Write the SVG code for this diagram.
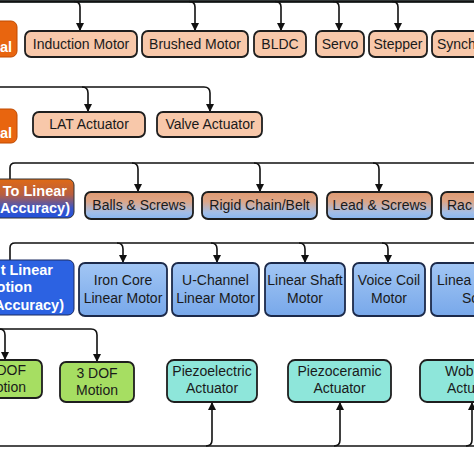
<svg xmlns="http://www.w3.org/2000/svg" width="474" height="474" viewBox="0 0 474 474">
<style>
text{font-family:"Liberation Sans",Arial,sans-serif;font-size:14px;fill:#1a1a1a;text-anchor:middle}
.hd{font-weight:bold;fill:#fff;text-anchor:end;font-size:14.5px}
.n{stroke:#1e1e1e;stroke-width:1.8}
.o{fill:#F8C8AA}
.g3{fill:url(#gMix)}
.b{fill:url(#gBlue);stroke:#1c2a4a}
.gr{fill:#A6DE62}
.c{fill:#8EE6DA}
.w{stroke:#111;stroke-width:1.6;fill:none}
</style>
<defs>
<linearGradient id="gMix" x1="0" y1="0" x2="0" y2="1">
<stop offset="0" stop-color="#E09A72"/><stop offset="0.35" stop-color="#DDA688"/><stop offset="0.75" stop-color="#A4BEE6"/><stop offset="1" stop-color="#88B6F0"/>
</linearGradient>
<linearGradient id="gHead" x1="0" y1="0" x2="0" y2="1">
<stop offset="0" stop-color="#E06A14"/><stop offset="0.4" stop-color="#B85E40"/><stop offset="0.75" stop-color="#3A56C8"/><stop offset="1" stop-color="#2050DC"/>
</linearGradient>
<linearGradient id="gBlue" x1="0" y1="0" x2="0" y2="1">
<stop offset="0" stop-color="#A2C6F4"/><stop offset="1" stop-color="#78A8EA"/>
</linearGradient>
<marker id="ar" viewBox="0 0 10 10" refX="10" refY="5" markerWidth="8" markerHeight="8" markerUnits="userSpaceOnUse" orient="auto">
<path d="M0,0 L10,5 L0,10 Z" fill="#111"/>
</marker>
</defs>
<rect width="474" height="474" fill="#fff"/>
<rect x="0" y="0" width="474" height="3" fill="#3c4444"/>

<g id="connectors">
<path class="w" d="M0,1.5 H474"/>
<path class="w" d="M74,1.5 Q80,1.5 80,7 V31" marker-end="url(#ar)"/>
<path class="w" d="M189,1.5 Q195,1.5 195,7 V31" marker-end="url(#ar)"/>
<path class="w" d="M275,1.5 Q281,1.5 281,7 V31" marker-end="url(#ar)"/>
<path class="w" d="M333,1.5 Q339,1.5 339,7 V31" marker-end="url(#ar)"/>
<path class="w" d="M392,1.5 Q398,1.5 398,7 V31" marker-end="url(#ar)"/>

<path class="w" d="M0,87 H204 Q210,87 210,93 V112" marker-end="url(#ar)"/>
<path class="w" d="M82,87 Q88,87 88,93 V112" marker-end="url(#ar)"/>

<path class="w" d="M10,179 V168 Q10,163 15,163 H474"/>
<path class="w" d="M132,163 Q138,163 138,169 V192" marker-end="url(#ar)"/>
<path class="w" d="M254,163 Q260,163 260,169 V192" marker-end="url(#ar)"/>
<path class="w" d="M373,163 Q379,163 379,169 V192" marker-end="url(#ar)"/>

<path class="w" d="M10,260 V248 Q10,243 15,243 H474"/>
<path class="w" d="M117,243 Q123,243 123,249 V263" marker-end="url(#ar)"/>
<path class="w" d="M211,243 Q217,243 217,249 V263" marker-end="url(#ar)"/>
<path class="w" d="M299,243 Q305,243 305,249 V263" marker-end="url(#ar)"/>
<path class="w" d="M382,243 Q388,243 388,249 V263" marker-end="url(#ar)"/>

<path class="w" d="M0,329 H91 Q97,329 97,335 V362" marker-end="url(#ar)"/>
<path class="w" d="M-1,329 Q5,329 5,335 V360" marker-end="url(#ar)"/>

<path class="w" d="M0,446 H474"/>
<path class="w" d="M206,446 Q212,446 212,440 V402" marker-end="url(#ar)"/>
<path class="w" d="M334,446 Q340,446 340,440 V402" marker-end="url(#ar)"/>
<path class="w" d="M466,446 Q472,446 472,440 V402" marker-end="url(#ar)"/>
</g>

<g id="head1"><rect x="-20" y="21" width="37" height="36" rx="6" fill="#E8650F" stroke="#c04a00" stroke-width="1"/><text class="hd" x="12" y="52">al</text></g>
<g id="n-induction"><rect class="n o" x="25" y="31" width="112" height="26" rx="6"/><text x="81" y="49">Induction Motor</text></g>
<g id="n-brushed"><rect class="n o" x="142" y="31" width="106" height="26" rx="6"/><text x="195" y="49">Brushed Motor</text></g>
<g id="n-bldc"><rect class="n o" x="254" y="31" width="52" height="26" rx="6"/><text x="280" y="49">BLDC</text></g>
<g id="n-servo"><rect class="n o" x="316" y="31" width="48" height="26" rx="6"/><text x="340" y="49">Servo</text></g>
<g id="n-stepper"><rect class="n o" x="369" y="31" width="58" height="26" rx="6"/><text x="398" y="49">Stepper</text></g>
<g id="n-synch"><rect class="n o" x="432" y="31" width="70" height="26" rx="6"/><text x="437" y="49" style="text-anchor:start">Synch</text></g>

<g id="head2"><rect x="-20" y="109" width="37" height="34" rx="6" fill="#E8650F" stroke="#c04a00" stroke-width="1"/><text class="hd" x="12" y="138">al</text></g>
<g id="n-lat"><rect class="n o" x="33" y="112" width="112" height="25" rx="6"/><text x="89" y="129">LAT Actuator</text></g>
<g id="n-valve"><rect class="n o" x="157" y="112" width="105" height="25" rx="6"/><text x="210" y="129">Valve Actuator</text></g>

<g id="head3"><rect x="-20" y="179" width="94" height="39" rx="6" fill="url(#gHead)" stroke="#333" stroke-width="1"/><text class="hd" x="67" y="196">To Linear</text><text class="hd" x="70" y="213">Accuracy)</text></g>
<g id="n-balls"><rect class="n g3" x="85" y="192" width="108" height="27" rx="6"/><text x="139" y="210">Balls &amp; Screws</text></g>
<g id="n-rigid"><rect class="n g3" x="202" y="192" width="115" height="27" rx="6"/><text x="259.5" y="210">Rigid Chain/Belt</text></g>
<g id="n-lead"><rect class="n g3" x="327" y="192" width="105" height="27" rx="6"/><text x="379.5" y="210">Lead &amp; Screws</text></g>
<g id="n-rac"><rect class="n g3" x="441" y="192" width="60" height="27" rx="6"/><text x="447" y="210" style="text-anchor:start">Rac</text></g>

<g id="head4"><rect x="-20" y="260" width="94" height="55" rx="6" fill="#2C62E2" stroke="#1a2a60" stroke-width="1"/><text class="hd" x="53" y="275">t Linear</text><text class="hd" x="32" y="292">otion</text><text class="hd" x="64" y="310">Accuracy)</text></g>
<g id="n-iron"><rect class="n b" x="79" y="263" width="88" height="53" rx="6"/><text x="123" y="285">Iron Core</text><text x="123" y="303">Linear Motor</text></g>
<g id="n-uchan"><rect class="n b" x="172" y="263" width="87" height="53" rx="6"/><text x="215.5" y="285">U-Channel</text><text x="215.5" y="303">Linear Motor</text></g>
<g id="n-shaft"><rect class="n b" x="265" y="263" width="80" height="53" rx="6"/><text x="305" y="285">Linear Shaft</text><text x="305" y="303">Motor</text></g>
<g id="n-voice"><rect class="n b" x="353" y="263" width="72" height="53" rx="6"/><text x="389" y="285">Voice Coil</text><text x="389" y="303">Motor</text></g>
<g id="n-linsol"><rect class="n b" x="431" y="263" width="80" height="53" rx="6"/><text x="437" y="285" style="text-anchor:start">Linea</text><text x="462" y="303" style="text-anchor:start">Sol</text></g>

<g id="n-dof"><rect class="n gr" x="-22" y="360" width="64" height="38" rx="6"/><text x="26" y="375" style="text-anchor:end">DOF</text><text x="26" y="392" style="text-anchor:end">otion</text></g>
<g id="n-3dof"><rect class="n gr" x="60" y="362" width="74" height="40" rx="6"/><text x="97" y="378">3 DOF</text><text x="97" y="395">Motion</text></g>
<g id="n-piezoel"><rect class="n c" x="167" y="360" width="90" height="42" rx="7"/><text x="212" y="376">Piezoelectric</text><text x="212" y="393">Actuator</text></g>
<g id="n-piezocer"><rect class="n c" x="288" y="360" width="103" height="42" rx="7"/><text x="339.5" y="376">Piezoceramic</text><text x="339.5" y="393">Actuator</text></g>
<g id="n-wob"><rect class="n c" x="420" y="360" width="90" height="42" rx="7"/><text x="445" y="376" style="text-anchor:start">Wob</text><text x="447" y="393" style="text-anchor:start">Actu</text></g>
</svg>
